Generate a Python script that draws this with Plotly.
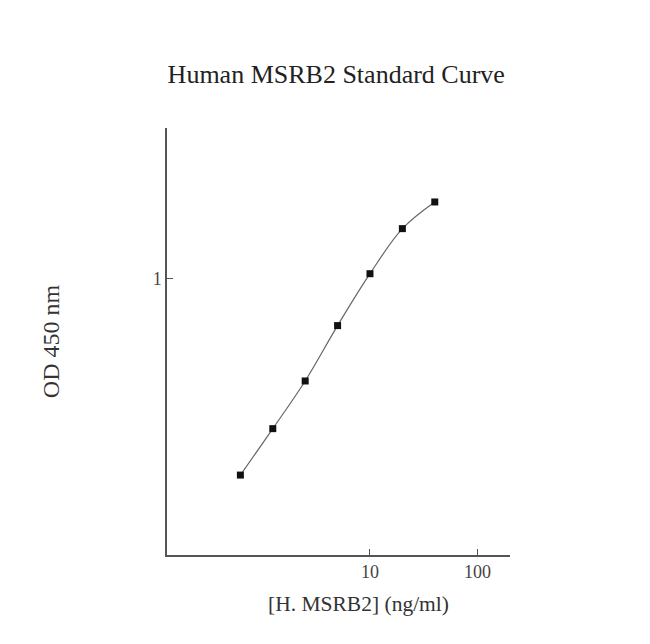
import plotly.graph_objects as go

conc = [0.625, 1.25, 2.5, 5, 10, 20, 40]
od = [0.222, 0.317, 0.457, 0.699, 1.041, 1.471, 1.805]
x_ticks = [10, 100]
x_ticklabels = ["10", "100"]
y_ticks = [1]
y_ticklabels = ["1"]

fig = go.Figure()
fig.add_trace(go.Scatter(
    x=conc, y=od, mode="lines+markers",
    line=dict(color="#666666", width=1.2, shape="spline", smoothing=1.0),
    marker=dict(symbol="square", size=7, color="#111111"),
    showlegend=False,
))

font = "Liberation Serif, Times New Roman, serif"
fig.update_layout(
    width=650, height=644,
    paper_bgcolor="white", plot_bgcolor="white",
    margin=dict(l=159, r=148, t=120, b=97),
    title=dict(text="Human MSRB2 Standard Curve", x=0.505, xanchor="center",
               y=1 - 66 / 644, yanchor="middle",
               font=dict(family=font, size=26, color="#222222")),
    font=dict(family=font, color="#444444"),
    annotations=[
        dict(text="[H. MSRB2] (ng/ml)", xref="paper", yref="paper",
             x=0.557, y=-0.1148, xanchor="center", yanchor="middle",
             showarrow=False, font=dict(family=font, size=21.5, color="#333333")),
        dict(text="OD 450 nm", xref="paper", yref="paper",
             x=-0.338, y=0.501, xanchor="center", yanchor="middle", textangle=-90,
             showarrow=False, font=dict(family=font, size=24, color="#333333")),
    ],
)
fig.update_xaxes(
    type="log", range=[-0.886, 2.301],
    tickvals=x_ticks, ticktext=x_ticklabels,
    ticks="inside", ticklen=6, tickcolor="#555555",
    showline=True, linecolor="#555555", linewidth=1.5,
    showgrid=False, zeroline=False,
    tickfont=dict(family=font, size=18, color="#444444"),
)
fig.update_yaxes(
    type="log", range=[-0.92, 0.503],
    tickvals=y_ticks, ticktext=y_ticklabels,
    ticks="inside", ticklen=6, tickcolor="#555555",
    showline=True, linecolor="#555555", linewidth=1.5,
    showgrid=False, zeroline=False,
    tickfont=dict(family=font, size=18, color="#444444"),
)
fig.write_html("out.html")
